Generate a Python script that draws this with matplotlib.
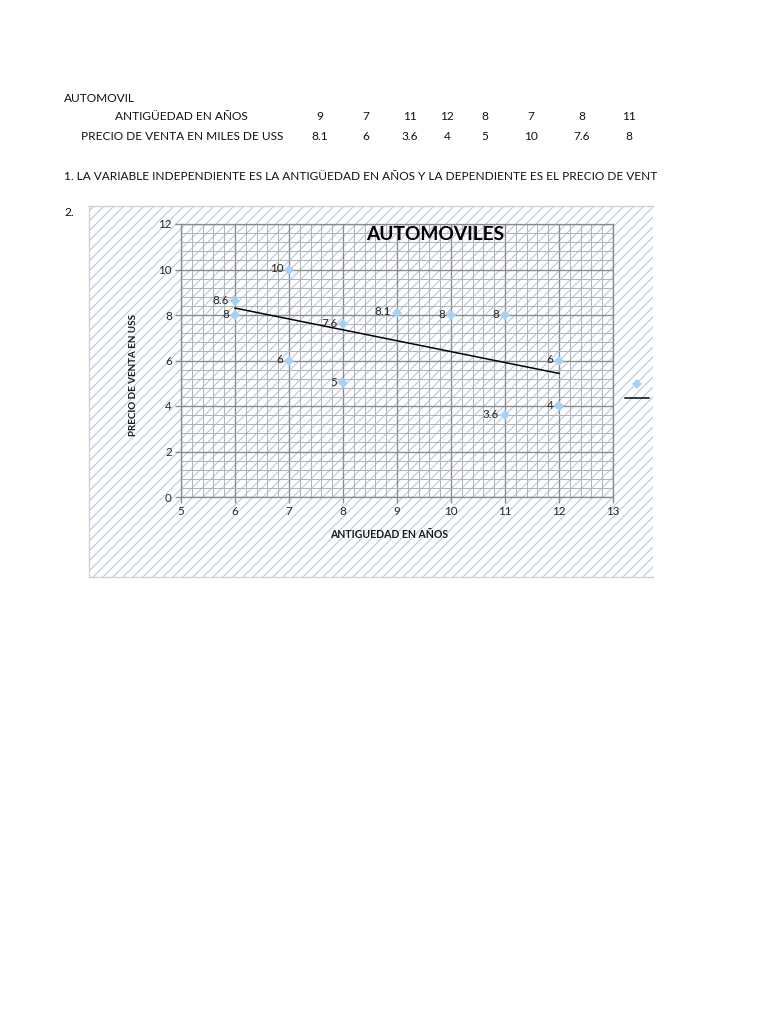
import numpy as np
import matplotlib
matplotlib.use("Agg")
import matplotlib.pyplot as plt
from matplotlib.lines import Line2D
from matplotlib.patches import Rectangle
from matplotlib.ticker import MultipleLocator

plt.rcParams['font.family'] = ['Lato', 'DejaVu Sans']
plt.rcParams['hatch.linewidth'] = 0.7

# tabla de datos
antiguedad = [9, 7, 11, 12, 8, 7, 8, 11]
precio = ["8.1", "6", "3.6", "4", "5", "10", "7.6", "8"]

# puntos del grafico
x_pts = [6, 6, 7, 7, 8, 8, 9, 10, 11, 11, 12, 12]
y_pts = [8.6, 8, 10, 6, 7.6, 5, 8.1, 8, 8, 3.6, 6, 4]
pt_labels = ["8.6", "8", "10", "6", "7.6", "5", "8.1", "8", "8", "3.6", "6", "4"]

W, H = 768, 1024
DPI = 120
fig = plt.figure(figsize=(W / DPI, H / DPI), dpi=DPI)
fig.patch.set_facecolor("white")

def fx(px):
    return px / W

def fy(py):
    return 1 - py / H

txt_color = "#111111"
fs = 7.1

# encabezado / tabla
fig.text(fx(64), fy(99), "AUTOMOVIL", fontsize=fs, color=txt_color, va="center")
fig.text(fx(181), fy(117), "ANTIGÜEDAD EN AÑOS", fontsize=fs, color=txt_color, va="center", ha="center")
fig.text(fx(182), fy(137), "PRECIO DE VENTA EN MILES DE USS", fontsize=fs, color=txt_color, va="center", ha="center")
col_px = [320, 366, 410, 447, 485, 531, 582, 629]
for cx, a, p in zip(col_px, antiguedad, precio):
    fig.text(fx(cx), fy(117), str(a), fontsize=fs, color=txt_color, va="center", ha="center")
    fig.text(fx(cx), fy(137), p, fontsize=fs, color=txt_color, va="center", ha="center")

# linea cortada en el borde
clip_ax = fig.add_axes([0, fy(186), fx(657), 20 / H])
clip_ax.axis("off")
clip_ax.set_xlim(0, 1)
clip_ax.set_ylim(0, 1)
clip_ax.text(fx(64) / fx(657), 0.5,
             "1. LA VARIABLE INDEPENDIENTE ES LA ANTIGÜEDAD EN AÑOS Y LA DEPENDIENTE ES EL PRECIO DE VENTA",
             fontsize=fs, color=txt_color, va="center", clip_on=True)

fig.text(fx(64), fy(213), "2.", fontsize=fs, color=txt_color, va="center")

# fondo del grafico con rayado
bg = fig.add_axes([fx(89), fy(577), fx(653) - fx(89), (577 - 206) / H])
bg.set_xlim(0, 1)
bg.set_ylim(0, 1)
bg.set_xticks([])
bg.set_yticks([])
bg.add_patch(Rectangle((0, 0), 1, 1, transform=bg.transAxes, facecolor="white",
                       edgecolor="#b6c9ea", hatch="////", linewidth=0, zorder=0))
for s in ["left", "top", "bottom"]:
    bg.spines[s].set_color("#d0d0d0")
    bg.spines[s].set_linewidth(0.8)
bg.spines["right"].set_visible(False)

# area de trazado
ax = fig.add_axes([fx(181), fy(497), fx(613) - fx(181), (497 - 224) / H])
ax.set_facecolor("none")
ax.set_xlim(5, 13)
ax.set_ylim(0, 12)
ax.xaxis.set_major_locator(MultipleLocator(1))
ax.xaxis.set_minor_locator(MultipleLocator(0.2))
ax.yaxis.set_major_locator(MultipleLocator(2))
ax.yaxis.set_minor_locator(MultipleLocator(0.4))
ax.grid(which="major", color="#8a8a8a", linewidth=0.8)
ax.grid(which="minor", color="#b3b3b3", linewidth=0.6)
ax.set_axisbelow(True)
for s in ax.spines.values():
    s.set_color("#8a8a8a")
    s.set_linewidth(0.8)
ax.tick_params(which="major", direction="out", length=3.5, color="#8a8a8a",
               labelsize=7, labelcolor="#262626", pad=2)
ax.tick_params(which="minor", length=0)

# linea de tendencia (lineal)
m, b = np.polyfit(x_pts, y_pts, 1)
xs = np.array([min(x_pts), max(x_pts)])
ax.plot(xs, m * xs + b, color="black", linewidth=0.9, zorder=3)

ax.plot(x_pts, y_pts, linestyle="none", marker="D", markersize=4,
        color="#a6d1f7", markeredgewidth=0, zorder=4)
for x, y, lab in zip(x_pts, y_pts, pt_labels):
    ax.annotate(lab, (x, y), xytext=(-3.5, 0.5), textcoords="offset points",
                ha="right", va="center", fontsize=7, color="#262626", zorder=5)

ax.text((435 - 181) / 432, 1 - (235 - 224) / 273, "AUTOMOVILES", transform=ax.transAxes,
        fontsize=11.5, fontweight="bold", color="black", ha="center", va="center", zorder=6)

ax.set_xlabel("ANTIGUEDAD EN AÑOS", fontsize=6.3, fontweight="bold", color="#1a1a1a")
ax.xaxis.set_label_coords((389 - 181) / 432, -(535 - 497) / 273)
ax.set_ylabel("PRECIO DE VENTA EN USS", fontsize=5.9, fontweight="bold", color="#1a1a1a")
ax.yaxis.set_label_coords(-(181 - 134) / 432, (497 - 375) / 273)
ax.yaxis.label.set_va("center")
ax.xaxis.label.set_va("center")

# leyenda (cortada en el borde)
handles = [Line2D([], [], linestyle="none", marker="D", markersize=4,
                  color="#a6d1f7", markeredgewidth=0),
           Line2D([], [], color="black", linewidth=0.9)]
fig.legend(handles, ["", ""], loc="center left", bbox_to_anchor=(fx(625), fy(392)),
           frameon=False, handlelength=2.3, handletextpad=0, borderpad=0,
           borderaxespad=0, labelspacing=0.55, fontsize=6.2)

fig.savefig("out.png", dpi=DPI)
